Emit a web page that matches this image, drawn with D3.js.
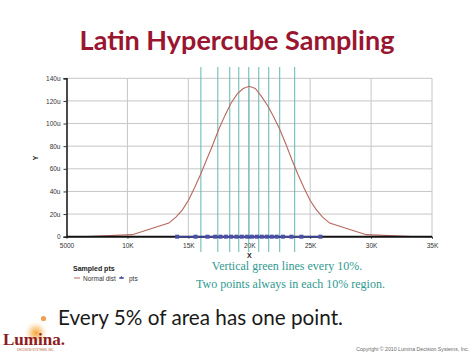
<!DOCTYPE html>
<html>
<head>
<meta charset="utf-8">
<script src="https://cdn.jsdelivr.net/npm/d3@7"></script>
<style>
  body { margin: 0; background: #fff; }
  svg { display: block; }
</style>
</head>
<body>
<div id="holder"></div>
<script>
// curve of the normal dist (x, density in u)
const distX = [5000, 6700, 10400, 13400, 14000, 14500, 15000, 15500, 16000, 16500, 17000, 17500, 18000, 18500, 19000, 19500, 20000,
               20500, 21000, 21500, 22000, 22500, 23000, 23500, 24000, 24500, 25000, 25500, 26000, 26600, 29600, 33300, 35000];
const distY = [0, 0.2, 1.8, 12, 17.5, 23.5, 32, 43, 55, 68, 81, 95, 107, 118, 126, 131, 133,
               131, 124, 116, 106, 95, 82, 68, 55, 43, 32, 24, 17.5, 12, 1.8, 0.2, 0];
// sampled points (one per 5% of area)
const sampleX = [14080, 15590, 16570, 17200, 17640, 18080, 18510, 18950, 19390, 19820,
                 20210, 20620, 21030, 21440, 21850, 22250, 22770, 23460, 24280, 25840];
// vertical green lines every 10%
const decileX = [16030, 17420, 18400, 19140, 19960, 20780, 21600, 22500, 23730];
const xTicks = [5000, 10000, 15000, 20000, 25000, 30000, 35000];
const xTickLabels = ["5000", "10K", "15K", "20K", "25K", "30K", "35K"];
const yTicks = [0, 20, 40, 60, 80, 100, 120, 140];
const yTickLabels = ["0", "20u", "40u", "60u", "80u", "100u", "120u", "140u"];

const w = 474, h = 355;
const svg = d3.select("#holder").append("svg").attr("width", w).attr("height", h);

const x = d3.scaleLinear().domain([5000, 35000]).range([66.5, 432]);
const y = d3.scaleLinear().domain([0, 140]).range([236.7, 78.3]);

// title
svg.append("text")
    .attr("x", 237).attr("y", 50)
    .attr("text-anchor", "middle")
    .attr("font-family", "Lato, sans-serif")
    .attr("font-weight", 700)
    .attr("font-size", 27)
    .attr("fill", "#9a1630")
    .text("Latin Hypercube Sampling");

// grid
svg.append("g").selectAll("line").data(xTicks.slice(1))
  .enter().append("line")
    .attr("x1", d => x(d)).attr("x2", d => x(d))
    .attr("y1", y(140)).attr("y2", y(0))
    .attr("stroke", "#c6c6c6").attr("stroke-width", 1);
svg.append("g").selectAll("line").data(yTicks.slice(1))
  .enter().append("line")
    .attr("x1", x(5000)).attr("x2", x(35000))
    .attr("y1", d => y(d)).attr("y2", d => y(d))
    .attr("stroke", "#c6c6c6").attr("stroke-width", 1);

// axes
const yAxis = d3.axisLeft(y).tickValues(yTicks).tickSize(3)
    .tickFormat((d, i) => yTickLabels[i]);
const gy = svg.append("g").attr("transform", `translate(${x(5000)},0)`).call(yAxis);
const xAxis = d3.axisBottom(x).tickValues(xTicks).tickSize(2)
    .tickFormat((d, i) => xTickLabels[i]);
const gx = svg.append("g").attr("transform", `translate(0,${y(0)})`).call(xAxis);
[gx, gy].forEach(g => {
  g.selectAll("text").attr("font-family", "Arial, 'Liberation Sans', sans-serif")
      .attr("font-size", 6.5).attr("fill", "#333");
  g.selectAll("line").attr("stroke", "#333");
});
gy.select(".domain").attr("stroke", "#111").attr("stroke-width", 1.5);
gx.select(".domain").remove();
gx.selectAll("text").attr("dy", "0.9em");

svg.append("text")
    .attr("transform", "translate(38,158) rotate(-90)")
    .attr("text-anchor", "middle")
    .attr("font-family", "Arial, sans-serif").attr("font-weight", 700)
    .attr("font-size", 7).attr("fill", "#222")
    .text("Y");
svg.append("text")
    .attr("x", x(20000)).attr("y", 257.5)
    .attr("text-anchor", "middle")
    .attr("font-family", "Arial, sans-serif").attr("font-weight", 700)
    .attr("font-size", 7).attr("fill", "#222")
    .text("X");

// green decile lines
svg.append("g").selectAll("line").data(decileX)
  .enter().append("line")
    .attr("x1", d => x(d)).attr("x2", d => x(d))
    .attr("y1", 67).attr("y2", 252)
    .attr("stroke", "#62b8b0").attr("stroke-width", 1);

// normal dist curve
const line = d3.line().x(d => x(d[0])).y(d => y(d[1]));
svg.append("path")
    .datum(distX.map((d, i) => [d, distY[i]]))
    .attr("d", line)
    .attr("fill", "none")
    .attr("stroke", "#b8675e")
    .attr("stroke-width", 1.1);

// x axis line
svg.append("line")
    .attr("x1", x(5000)).attr("x2", x(35000))
    .attr("y1", y(0)).attr("y2", y(0))
    .attr("stroke", "#111").attr("stroke-width", 2);

// sampled pts
svg.append("path")
    .datum(sampleX)
    .attr("d", d3.line().x(d => x(d)).y(y(0)))
    .attr("fill", "none").attr("stroke", "#3c429c").attr("stroke-width", 1.5);
svg.append("g").selectAll("rect").data(sampleX)
  .enter().append("rect")
    .attr("x", d => x(d) - 2).attr("y", y(0) - 2)
    .attr("width", 4).attr("height", 4)
    .attr("fill", "#4a50a6");

// legend
const lg = svg.append("g").attr("font-family", "Arial, sans-serif").attr("fill", "#333");
lg.append("text").attr("x", 73).attr("y", 271).attr("font-size", 7).attr("font-weight", 700)
    .attr("fill", "#222").text("Sampled pts");
lg.append("line").attr("x1", 74).attr("x2", 80).attr("y1", 278).attr("y2", 278)
    .attr("stroke", "#b8675e").attr("stroke-width", 1);
lg.append("text").attr("x", 83).attr("y", 280.5).attr("font-size", 6.5).text("Normal dist");
lg.append("line").attr("x1", 119).attr("x2", 124).attr("y1", 278).attr("y2", 278)
    .attr("stroke", "#3c429c").attr("stroke-width", 1);
lg.append("path").attr("d", "M119.5,278.5 L121.5,276 L123.5,278.5 Z").attr("fill", "#3c429c");
lg.append("text").attr("x", 129).attr("y", 280.5).attr("font-size", 6.5).text("pts");

// caption
const cap = svg.append("g")
    .attr("font-family", "'Liberation Serif', 'DejaVu Serif', serif")
    .attr("font-size", 12).attr("fill", "#2f9a90").attr("text-anchor", "middle");
cap.append("text").attr("x", 287).attr("y", 270).text("Vertical green lines every 10%.");
cap.append("text").attr("x", 290.5).attr("y", 288).text("Two points always in each 10% region.");

// bullet
svg.append("circle").attr("cx", 43.5).attr("cy", 318.5).attr("r", 2.6).attr("fill", "#f0a050");
svg.append("text")
    .attr("x", 58).attr("y", 325)
    .attr("font-family", "Lato, sans-serif")
    .attr("font-size", 21.5).attr("fill", "#1a1a1a")
    .attr("textLength", 285).attr("lengthAdjust", "spacingAndGlyphs")
    .text("Every 5% of area has one point.");

// logo
const defs = svg.append("defs");
const rg = defs.append("radialGradient").attr("id", "sun");
rg.append("stop").attr("offset", "0%").attr("stop-color", "#f6a531").attr("stop-opacity", 1);
rg.append("stop").attr("offset", "45%").attr("stop-color", "#f8c070").attr("stop-opacity", 0.6);
rg.append("stop").attr("offset", "100%").attr("stop-color", "#ffffff").attr("stop-opacity", 0);
svg.append("circle").attr("cx", 36).attr("cy", 333).attr("r", 13).attr("fill", "url(#sun)");
svg.append("text")
    .attr("x", 3).attr("y", 345)
    .attr("font-family", "'Liberation Serif', serif").attr("font-weight", 700)
    .attr("font-size", 17).attr("fill", "#8c1c22")
    .text("Lumina.");
svg.append("text")
    .attr("x", 17).attr("y", 351)
    .attr("font-family", "Arial, sans-serif")
    .attr("font-size", 3).attr("fill", "#b0603a")
    .text("DECISION SYSTEMS, INC.");

svg.append("text")
    .attr("x", 469).attr("y", 351)
    .attr("text-anchor", "end")
    .attr("font-family", "Arial, sans-serif")
    .attr("font-size", 5.2).attr("fill", "#6a6a6a")
    .text("Copyright © 2010 Lumina Decision Systems, Inc.");
</script>
</body>
</html>
